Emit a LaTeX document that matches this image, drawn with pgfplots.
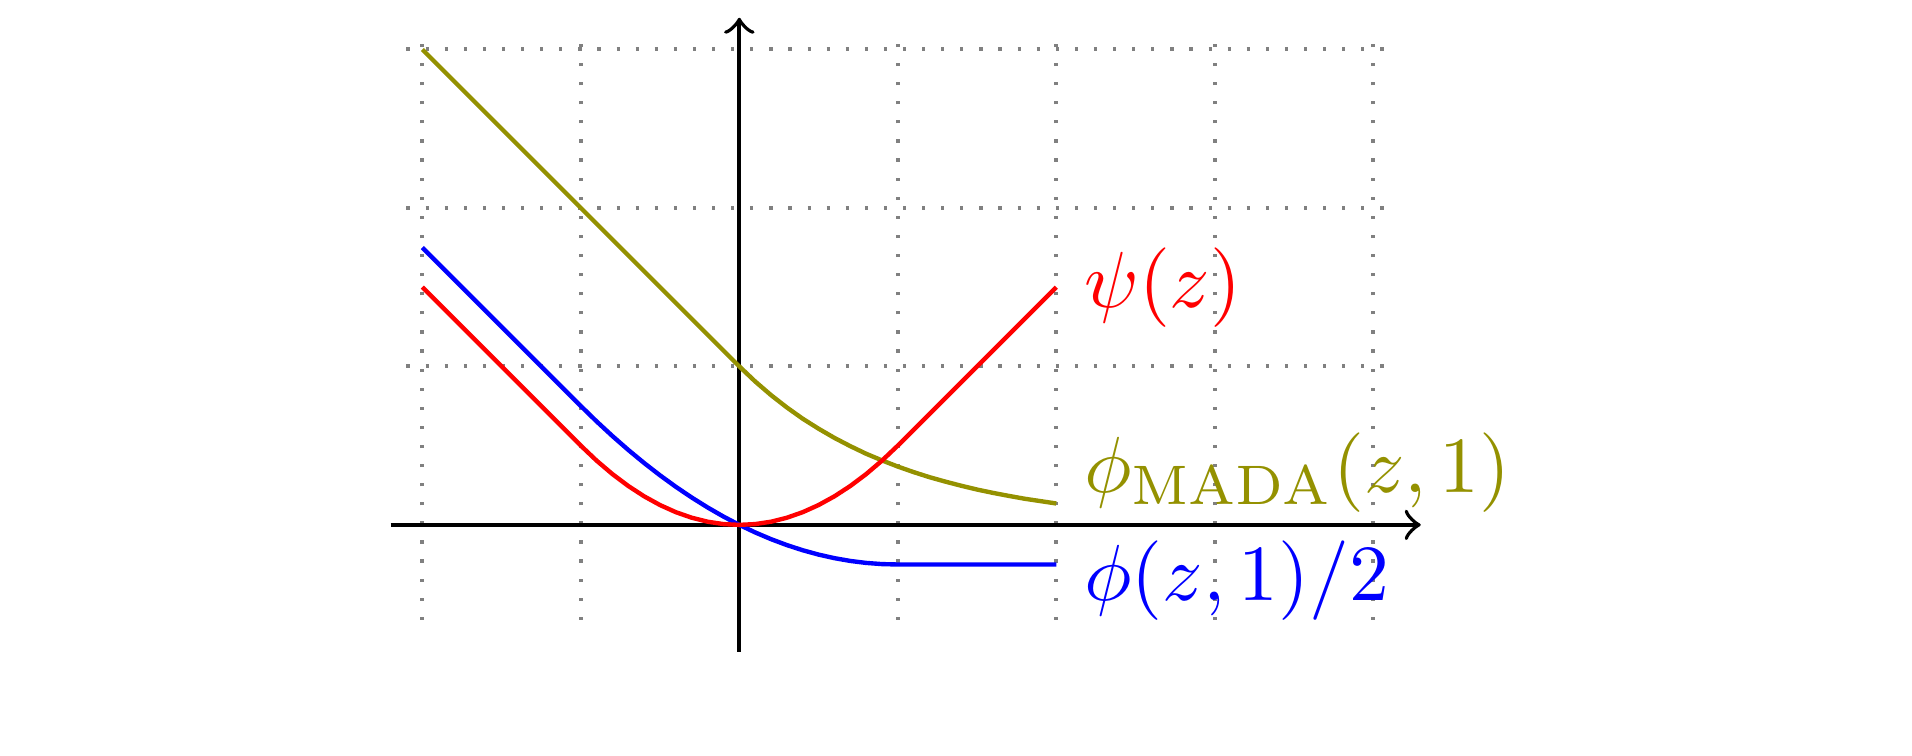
\documentclass[border=0pt]{standalone}
\usepackage{pgfplots}
\pgfplotsset{compat=1.18}
\definecolor{madaolive}{rgb}{0.58,0.57,0}

\begin{document}
\begin{tikzpicture}
\begin{axis}[
    x=0.7cm, y=0.7cm,
    xmin=-2.1, xmax=4.1,
    ymin=-0.6, ymax=3.1,
    axis line style={draw=none},
    xtick={-2,...,4}, ytick={0,...,3},
    xticklabels={}, yticklabels={},
    major tick length=0pt,
    grid=major,
    grid style={dotted, gray, line width=0.5pt},
    clip=false,
]
% invisible frame: keeps the white margins of the reference
\path (axis cs:-4.665,-1.457) rectangle (axis cs:7.40,3.312);

\draw[->, line width=0.5pt] (axis cs:-2.2,0) -- (axis cs:4.3,0);
\draw[->, line width=0.5pt] (axis cs:0,-0.8) -- (axis cs:0,3.2);

% phi_MADA(z,1)
\addplot[madaolive, line width=0.55pt] coordinates {
    (-2,3) (0,1)
    (0.1,0.905) (0.2,0.819) (0.3,0.741) (0.4,0.670) (0.5,0.607)
    (0.6,0.549) (0.7,0.497) (0.8,0.449) (0.9,0.407) (1.0,0.368)
    (1.1,0.333) (1.2,0.301) (1.3,0.273) (1.4,0.247) (1.5,0.223)
    (1.6,0.202) (1.7,0.183) (1.8,0.165) (1.9,0.150) (2.0,0.135)
};

% phi(z,1)/2
\addplot[blue, line width=0.55pt] coordinates {
    (-2,1.75) (-1,0.75)
    (-0.9,0.6525) (-0.8,0.56) (-0.7,0.4725) (-0.6,0.39) (-0.5,0.3125)
    (-0.4,0.24) (-0.3,0.1725) (-0.2,0.11) (-0.1,0.0525) (0,0)
    (0.1,-0.0475) (0.2,-0.09) (0.3,-0.1275) (0.4,-0.16) (0.5,-0.1875)
    (0.6,-0.21) (0.7,-0.2275) (0.8,-0.24) (0.9,-0.2475) (1,-0.25)
    (2,-0.25)
};

% psi(z)
\addplot[red, line width=0.55pt] coordinates {
    (-2,1.5) (-1,0.5)
    (-0.9,0.405) (-0.8,0.32) (-0.7,0.245) (-0.6,0.18) (-0.5,0.125)
    (-0.4,0.08) (-0.3,0.045) (-0.2,0.02) (-0.1,0.005) (0,0)
    (0.1,0.005) (0.2,0.02) (0.3,0.045) (0.4,0.08) (0.5,0.125)
    (0.6,0.18) (0.7,0.245) (0.8,0.32) (0.9,0.405) (1,0.5)
    (2,1.5)
};

\node[red, anchor=west] at (axis cs:2,1.5) {$\psi(z)$};
\node[madaolive, anchor=west] at (axis cs:2,0.33) {$\phi_{\mathrm{MADA}}(z,1)$};
\node[blue, anchor=west] at (axis cs:2,-0.35) {$\phi(z,1)/2$};
\end{axis}
\end{tikzpicture}
\end{document}
